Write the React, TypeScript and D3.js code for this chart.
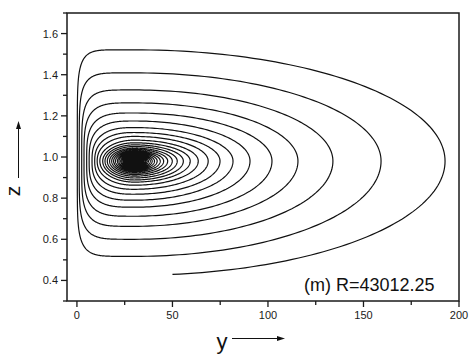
import React from "react";
import * as d3 from "d3";

// ---- data (y = horizontal, z = vertical) ----
const centerY = 30;
const centerZ = 0.98;
const startY = 50; // first point of the trajectory (on the bottom branch)

// rightmost y reached on each loop
const loopRight = [192.7, 159.2, 134.0, 115.7, 102.1, 90.6, 81.7, 74.9, 68.7, 63.5, 59.3, 55.7, 52.5, 49.9, 47.5, 45.4, 43.6, 42.0, 40.6, 39.4, 38.4, 37.4, 36.6, 35.9, 35.2, 34.7, 34.1, 33.7, 33.2, 32.9, 32.6, 32.25, 32.0, 31.7, 31.5, 31.3, 31.1, 30.9, 30.7, 30.6];
// leftmost y reached on each loop
const loopLeft = [0.2, 1.2, 2.5, 3.7, 5.1, 6.4, 7.9, 9.3, 10.6, 12.0, 13.5, 14.7, 15.9, 17.1, 18.2, 19.2, 20.2, 21.2, 22.0, 22.9, 23.6, 24.3, 24.9, 25.5, 26.0, 26.5, 26.9, 27.3, 27.6, 27.9, 28.2, 28.4, 28.6, 28.8, 28.95, 29.1, 29.3, 29.4, 29.5, 29.6];
// highest z on each loop
const loopTop = [1.521, 1.409, 1.326, 1.263, 1.214, 1.175, 1.143, 1.119, 1.1, 1.082, 1.069, 1.059, 1.051, 1.043, 1.037, 1.031, 1.026, 1.0215, 1.017, 1.013, 1.01, 1.007, 1.004, 1.0015, 0.999, 0.997, 0.995, 0.9934, 0.992, 0.9905, 0.9893, 0.988, 0.9871, 0.9861, 0.9851, 0.9844, 0.9837, 0.9829, 0.9822, 0.9815];
// lowest z on each bottom branch (first entry = starting branch)
const loopBottom = [0.425, 0.517, 0.6, 0.663, 0.712, 0.756, 0.79, 0.819, 0.843, 0.863, 0.878, 0.8883, 0.898, 0.9068, 0.9146, 0.9215, 0.9278, 0.9332, 0.938, 0.9424, 0.9463, 0.9498, 0.9532, 0.9561, 0.9585, 0.961, 0.9629, 0.9649, 0.9666, 0.9683, 0.9698, 0.971, 0.9722, 0.9732, 0.9741, 0.9751, 0.9759, 0.9766, 0.9773, 0.978, 0.9785];

const xTicksMajor = [0, 50, 100, 150, 200];
const xTicksMinor = [25, 75, 125, 175];
const yTicksMajor = [0.4, 0.6, 0.8, 1.0, 1.2, 1.4, 1.6];
const yTicksMinor = [0.3, 0.5, 0.7, 0.9, 1.1, 1.3, 1.5, 1.7];
const annotation = "(m) R=43012.25";

const W = 474;
const H = 357;
const FONT = "'Liberation Sans', Arial, Helvetica, sans-serif";

const x = d3.scaleLinear().domain([-5.2, 200]).range([67, 459]);
const y = d3.scaleLinear().domain([0.3, 1.7]).range([301, 13]);

function pw(c: number, e: number) {
  return Math.sign(c) * Math.pow(Math.abs(c), e);
}

function buildSpiral(): [number, number][] {
  const pts: [number, number][] = [];
  const kx = x(1) - x(0);
  const kz = y(0) - y(1);
  const N = loopRight.length;
  const sharp = (vr: number, hr: number) => {
    const ratio = (vr * kz) / (hr * kx);
    return Math.max(2, Math.min(7, 2 + 3.6 * (ratio - 0.6)));
  };
  const quad = (a: number, b: number, hr: number, vr: number, n: number, steps: number) => {
    const e = 2 / n;
    for (let i = 0; i <= steps; i++) {
      const t = a + ((b - a) * i) / steps;
      pts.push([centerY + hr * pw(Math.cos(t), e), centerZ + vr * pw(Math.sin(t), e)]);
    }
  };
  for (let k = 0; k < N; k++) {
    const hrR = loopRight[k] - centerY;
    const hrL = centerY - loopLeft[k];
    const vrT = loopTop[k] - centerZ;
    const vrB = centerZ - loopBottom[k];
    const t0 = k === 0 ? -Math.acos((startY - centerY) / hrR) : -Math.PI / 2;
    quad(t0, 0, hrR, vrB, 2, 60);
    quad(0, Math.PI / 2, hrR, vrT, 2, 60);
    quad(Math.PI / 2, Math.PI, hrL, vrT, sharp(vrT, hrL), 120);
    if (k + 1 < loopBottom.length) {
      const vrB2 = centerZ - loopBottom[k + 1];
      quad(Math.PI, 1.5 * Math.PI, hrL, vrB2, sharp(vrB2, hrL), 120);
    }
  }
  return pts;
}

export default function App() {
  const pts = buildSpiral();
  const line = d3
    .line<[number, number]>()
    .x((d) => x(d[0]))
    .y((d) => y(d[1]));
  const x0 = x.range()[0];
  const x1 = x.range()[1];
  const yb = y.range()[0];
  const yt = y.range()[1];

  return (
    <svg
      width={W}
      height={H}
      style={{ position: "absolute", left: 0, top: 0, background: "#fff" }}
      fontFamily={FONT}
    >
      <rect x={0} y={0} width={W} height={H} fill="#fff" />
      {/* trajectory */}
      <path d={line(pts) || ""} fill="none" stroke="#111" strokeWidth={1.2} />
      {/* frame */}
      <rect x={x0} y={yt} width={x1 - x0} height={yb - yt} fill="none" stroke="#1a1a1a" strokeWidth={1.5} />
      {/* x ticks */}
      {xTicksMajor.map((t) => (
        <g key={"xm" + t}>
          <line x1={x(t)} x2={x(t)} y1={yb} y2={yb + 6} stroke="#1a1a1a" strokeWidth={1.3} />
          <text x={x(t)} y={yb + 18} fontSize={11} textAnchor="middle" fill="#1a1a1a">
            {t}
          </text>
        </g>
      ))}
      {xTicksMinor.map((t) => (
        <line key={"xn" + t} x1={x(t)} x2={x(t)} y1={yb} y2={yb + 4} stroke="#1a1a1a" strokeWidth={1.3} />
      ))}
      {/* y ticks */}
      {yTicksMajor.map((t) => (
        <g key={"ym" + t}>
          <line x1={x0 - 6} x2={x0} y1={y(t)} y2={y(t)} stroke="#1a1a1a" strokeWidth={1.3} />
          <text x={x0 - 9} y={y(t) + 4} fontSize={11} textAnchor="end" fill="#1a1a1a">
            {t.toFixed(1)}
          </text>
        </g>
      ))}
      {yTicksMinor.map((t) => (
        <line key={"yn" + t} x1={x0 - 4} x2={x0} y1={y(t)} y2={y(t)} stroke="#1a1a1a" strokeWidth={1.3} />
      ))}
      {/* annotation */}
      <text x={304} y={291} fontSize={18} fill="#111">
        {annotation}
      </text>
      {/* axis labels with arrows */}
      <text
        x={0}
        y={0}
        fontSize={21}
        fill="#111"
        textAnchor="middle"
        transform="translate(20,191) rotate(-90)"
      >
        z
      </text>
      <line x1={18.5} x2={18.5} y1={178} y2={128} stroke="#111" strokeWidth={1} />
      <path d="M18.5,121 L16,129 L21,129 Z" fill="#111" />
      <text x={222} y={349} fontSize={22} fill="#111" textAnchor="middle">
        y
      </text>
      <line x1={232} x2={278} y1={338.5} y2={338.5} stroke="#111" strokeWidth={1} />
      <path d="M285,338.5 L277,336 L277,341 Z" fill="#111" />
    </svg>
  );
}
